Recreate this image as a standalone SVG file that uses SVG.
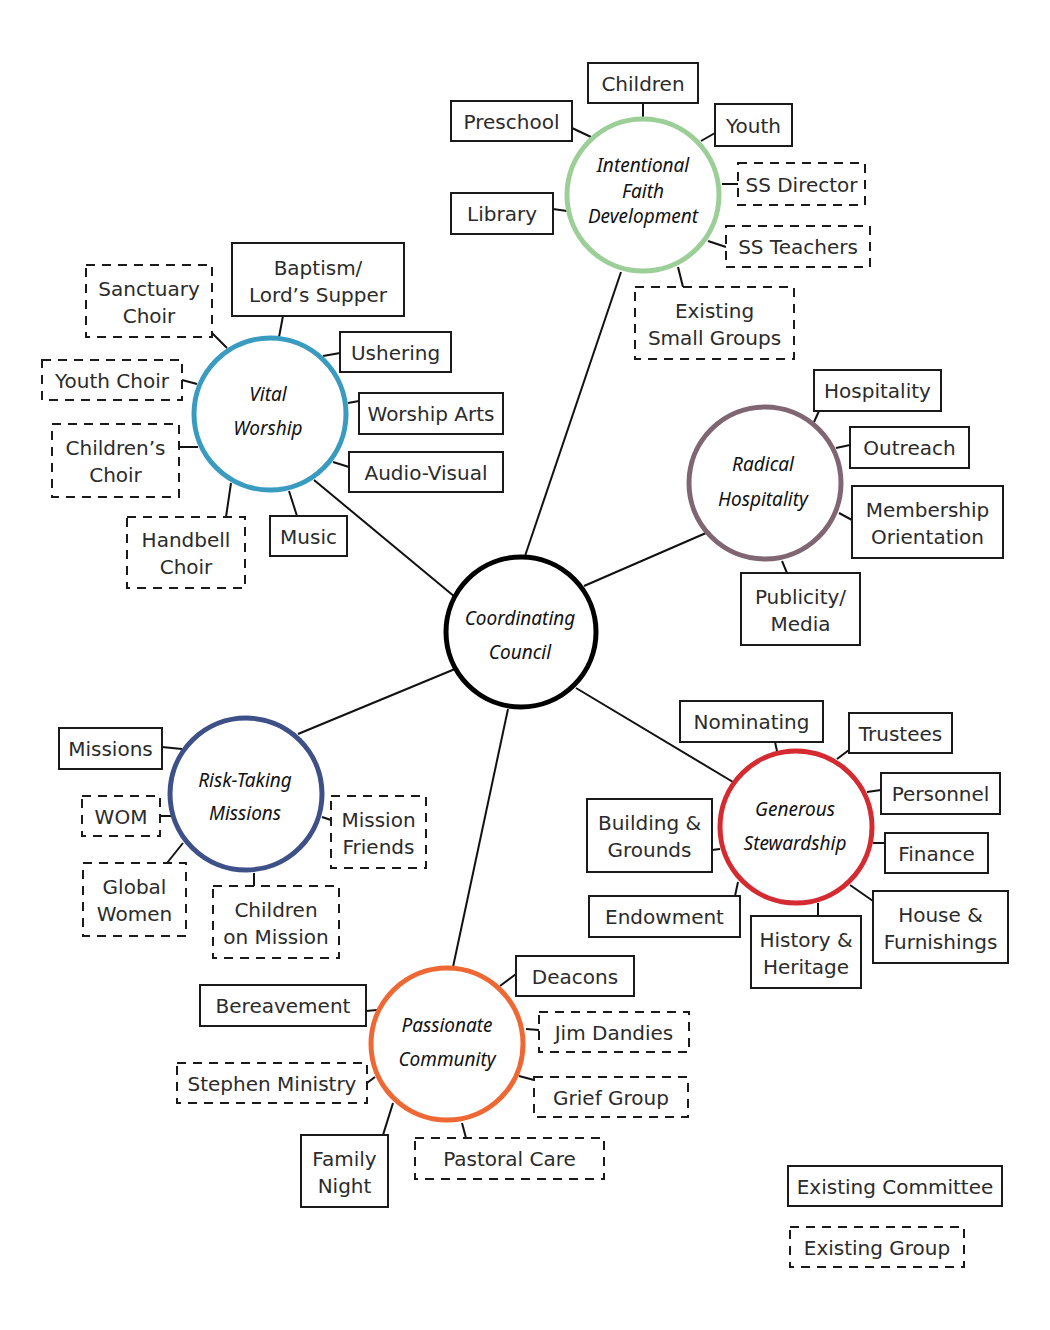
<svg xmlns="http://www.w3.org/2000/svg" width="1050" height="1330" viewBox="0 0 1050 1330">
<style>
.b{fill:#fff;stroke:#1a1a1a;stroke-width:2}
.d{fill:#fff;stroke:#1a1a1a;stroke-width:2;stroke-dasharray:9 7}
.t{font-family:"DejaVu Sans",sans-serif;font-size:20px;fill:#2b2b2b;text-anchor:middle}
.h{font-family:"Noto Sans",sans-serif;font-style:italic;font-size:19px;fill:#111;text-anchor:middle}
.c{fill:#fff;stroke-width:5}
#connectors line{stroke:#111;stroke-width:2}
</style>
<rect width="1050" height="1330" fill="#fff"/>
<g id="connectors">
<line x1="525" y1="556" x2="621" y2="272"/>
<line x1="314" y1="480" x2="455" y2="597"/>
<line x1="584" y1="586" x2="706" y2="533"/>
<line x1="455" y1="669" x2="298" y2="734"/>
<line x1="576" y1="688" x2="733" y2="782"/>
<line x1="508" y1="709" x2="453" y2="967"/>
<line x1="643" y1="103" x2="643" y2="118"/>
<line x1="572" y1="128" x2="591" y2="137"/>
<line x1="715" y1="133" x2="701" y2="141"/>
<line x1="722" y1="184" x2="738" y2="184"/>
<line x1="553" y1="209" x2="567" y2="211"/>
<line x1="708" y1="241" x2="726" y2="247"/>
<line x1="678" y1="267" x2="683" y2="287"/>
<line x1="212" y1="333" x2="227" y2="348"/>
<line x1="283" y1="316" x2="279" y2="337"/>
<line x1="340" y1="353" x2="323" y2="356"/>
<line x1="182" y1="380" x2="197" y2="384"/>
<line x1="359" y1="401" x2="348" y2="403"/>
<line x1="179" y1="447" x2="198" y2="447"/>
<line x1="349" y1="467" x2="333" y2="462"/>
<line x1="231" y1="483" x2="226" y2="517"/>
<line x1="289" y1="491" x2="297" y2="516"/>
<line x1="819" y1="411" x2="814" y2="422"/>
<line x1="850" y1="445" x2="836" y2="448"/>
<line x1="852" y1="520" x2="839" y2="513"/>
<line x1="787" y1="573" x2="782" y2="561"/>
<line x1="162" y1="747" x2="182" y2="749"/>
<line x1="160" y1="816" x2="171" y2="816"/>
<line x1="331" y1="820" x2="322" y2="817"/>
<line x1="167" y1="863" x2="183" y2="843"/>
<line x1="254" y1="873" x2="254" y2="886"/>
<line x1="775" y1="742" x2="777" y2="751"/>
<line x1="849" y1="750" x2="837" y2="759"/>
<line x1="881" y1="790" x2="867" y2="792"/>
<line x1="885" y1="843" x2="873" y2="843"/>
<line x1="712" y1="850" x2="720" y2="849"/>
<line x1="735" y1="896" x2="738" y2="882"/>
<line x1="818" y1="916" x2="818" y2="903"/>
<line x1="873" y1="901" x2="850" y2="885"/>
<line x1="516" y1="974" x2="500" y2="986"/>
<line x1="539" y1="1030" x2="526" y2="1029"/>
<line x1="534" y1="1080" x2="519" y2="1076"/>
<line x1="466" y1="1138" x2="462" y2="1123"/>
<line x1="383" y1="1135" x2="393" y2="1103"/>
<line x1="366" y1="1011" x2="377" y2="1010"/>
<line x1="367" y1="1083" x2="375" y2="1077"/>
</g>

<g id="coordinating-council"><circle class="c" cx="521" cy="632" r="75" stroke="#000" stroke-width="3.5"/><text class="h" x="520" y="625">Coordinating</text><text class="h" x="520" y="659">Council</text></g>
<g id="intentional-faith"><circle class="c" cx="643" cy="195" r="76" stroke="#9bcf97"/><text class="h" x="643" y="172">Intentional</text><text class="h" x="643" y="198">Faith</text><text class="h" x="643" y="223">Development</text></g>
<g id="vital-worship"><circle class="c" cx="270" cy="414" r="76" stroke="#3a9bc1"/><text class="h" x="268" y="401">Vital</text><text class="h" x="268" y="435">Worship</text></g>
<g id="radical-hospitality"><circle class="c" cx="765" cy="483" r="76" stroke="#806672"/><text class="h" x="763" y="471">Radical</text><text class="h" x="763" y="506">Hospitality</text></g>
<g id="risk-taking-missions"><circle class="c" cx="246" cy="794" r="76" stroke="#3d5088"/><text class="h" x="245" y="787">Risk-Taking</text><text class="h" x="245" y="820">Missions</text></g>
<g id="generous-stewardship"><circle class="c" cx="796" cy="827" r="76" stroke="#d62a31"/><text class="h" x="795" y="816">Generous</text><text class="h" x="795" y="850">Stewardship</text></g>
<g id="passionate-community"><circle class="c" cx="447" cy="1044" r="76" stroke="#ef6733"/><text class="h" x="447" y="1032">Passionate</text><text class="h" x="447" y="1066">Community</text></g>

<g id="children"><rect class="b" x="588" y="63" width="110" height="40"/><text class="t" x="643" y="91">Children</text></g>
<g id="preschool"><rect class="b" x="451" y="101" width="121" height="40"/><text class="t" x="511.5" y="129">Preschool</text></g>
<g id="youth"><rect class="b" x="715" y="104" width="77" height="42"/><text class="t" x="753.5" y="133">Youth</text></g>
<g id="ss-director"><rect class="d" x="738" y="163" width="127" height="42"/><text class="t" x="801.5" y="192">SS Director</text></g>
<g id="library"><rect class="b" x="451" y="193" width="102" height="41"/><text class="t" x="502" y="221">Library</text></g>
<g id="ss-teachers"><rect class="d" x="726" y="226" width="144" height="41"/><text class="t" x="798" y="254">SS Teachers</text></g>
<g id="small-groups"><rect class="d" x="635" y="287" width="159" height="72"/><text class="t" x="714.5" y="318">Existing</text><text class="t" x="714.5" y="345">Small Groups</text></g>

<g id="sanctuary-choir"><rect class="d" x="86" y="265" width="126" height="72"/><text class="t" x="149" y="296">Sanctuary</text><text class="t" x="149" y="323">Choir</text></g>
<g id="baptism"><rect class="b" x="232" y="243" width="172" height="73"/><text class="t" x="318" y="275">Baptism/</text><text class="t" x="318" y="302">Lord’s Supper</text></g>
<g id="ushering"><rect class="b" x="340" y="332" width="111" height="40"/><text class="t" x="395.5" y="360">Ushering</text></g>
<g id="youth-choir"><rect class="d" x="42" y="360" width="140" height="40"/><text class="t" x="112" y="388">Youth Choir</text></g>
<g id="worship-arts"><rect class="b" x="359" y="393" width="144" height="41"/><text class="t" x="431" y="421">Worship Arts</text></g>
<g id="childrens-choir"><rect class="d" x="52" y="424" width="127" height="73"/><text class="t" x="115.5" y="455">Children’s</text><text class="t" x="115.5" y="482">Choir</text></g>
<g id="audio-visual"><rect class="b" x="349" y="452" width="154" height="40"/><text class="t" x="426" y="480">Audio-Visual</text></g>
<g id="handbell-choir"><rect class="d" x="127" y="517" width="118" height="71"/><text class="t" x="186" y="547">Handbell</text><text class="t" x="186" y="574">Choir</text></g>
<g id="music"><rect class="b" x="270" y="516" width="77" height="40"/><text class="t" x="308.5" y="544">Music</text></g>

<g id="hospitality"><rect class="b" x="814" y="370" width="127" height="41"/><text class="t" x="877.5" y="398">Hospitality</text></g>
<g id="outreach"><rect class="b" x="850" y="427" width="119" height="41"/><text class="t" x="909.5" y="455">Outreach</text></g>
<g id="membership"><rect class="b" x="852" y="486" width="151" height="72"/><text class="t" x="927.5" y="517">Membership</text><text class="t" x="927.5" y="544">Orientation</text></g>
<g id="publicity"><rect class="b" x="741" y="573" width="119" height="72"/><text class="t" x="800.5" y="604">Publicity/</text><text class="t" x="800.5" y="631">Media</text></g>

<g id="missions"><rect class="b" x="59" y="728" width="103" height="41"/><text class="t" x="110.5" y="756">Missions</text></g>
<g id="wom"><rect class="d" x="82" y="796" width="78" height="40"/><text class="t" x="121" y="824">WOM</text></g>
<g id="mission-friends"><rect class="d" x="331" y="796" width="95" height="72"/><text class="t" x="378.5" y="827">Mission</text><text class="t" x="378.5" y="854">Friends</text></g>
<g id="global-women"><rect class="d" x="83" y="863" width="103" height="73"/><text class="t" x="134.5" y="894">Global</text><text class="t" x="134.5" y="921">Women</text></g>
<g id="children-on-mission"><rect class="d" x="213" y="886" width="126" height="72"/><text class="t" x="276" y="917">Children</text><text class="t" x="276" y="944">on Mission</text></g>

<g id="nominating"><rect class="b" x="680" y="701" width="143" height="41"/><text class="t" x="751.5" y="729">Nominating</text></g>
<g id="trustees"><rect class="b" x="849" y="713" width="103" height="40"/><text class="t" x="900.5" y="741">Trustees</text></g>
<g id="personnel"><rect class="b" x="881" y="773" width="119" height="41"/><text class="t" x="940.5" y="801">Personnel</text></g>
<g id="finance"><rect class="b" x="885" y="833" width="103" height="40"/><text class="t" x="936.5" y="861">Finance</text></g>
<g id="building"><rect class="b" x="587" y="799" width="125" height="73"/><text class="t" x="649.5" y="830">Building &amp;</text><text class="t" x="649.5" y="857">Grounds</text></g>
<g id="endowment"><rect class="b" x="589" y="896" width="151" height="41"/><text class="t" x="664.5" y="924">Endowment</text></g>
<g id="history"><rect class="b" x="751" y="916" width="110" height="72"/><text class="t" x="806" y="947">History &amp;</text><text class="t" x="806" y="974">Heritage</text></g>
<g id="house"><rect class="b" x="873" y="891" width="135" height="72"/><text class="t" x="940.5" y="922">House &amp;</text><text class="t" x="940.5" y="949">Furnishings</text></g>

<g id="deacons"><rect class="b" x="516" y="956" width="118" height="40"/><text class="t" x="575" y="984">Deacons</text></g>
<g id="bereavement"><rect class="b" x="200" y="985" width="166" height="41"/><text class="t" x="283" y="1013">Bereavement</text></g>
<g id="jim-dandies"><rect class="d" x="539" y="1012" width="150" height="40"/><text class="t" x="614" y="1040">Jim Dandies</text></g>
<g id="stephen-ministry"><rect class="d" x="177" y="1063" width="190" height="40"/><text class="t" x="272" y="1091">Stephen Ministry</text></g>
<g id="grief-group"><rect class="d" x="534" y="1077" width="154" height="40"/><text class="t" x="611" y="1105">Grief Group</text></g>
<g id="family-night"><rect class="b" x="301" y="1135" width="87" height="72"/><text class="t" x="344.5" y="1166">Family</text><text class="t" x="344.5" y="1193">Night</text></g>
<g id="pastoral-care"><rect class="d" x="415" y="1138" width="189" height="41"/><text class="t" x="509.5" y="1166">Pastoral Care</text></g>

<g id="legend-committee"><rect class="b" x="788" y="1166" width="214" height="40"/><text class="t" x="895" y="1194">Existing Committee</text></g>
<g id="legend-group"><rect class="d" x="790" y="1227" width="174" height="40"/><text class="t" x="877" y="1255">Existing Group</text></g>
</svg>
